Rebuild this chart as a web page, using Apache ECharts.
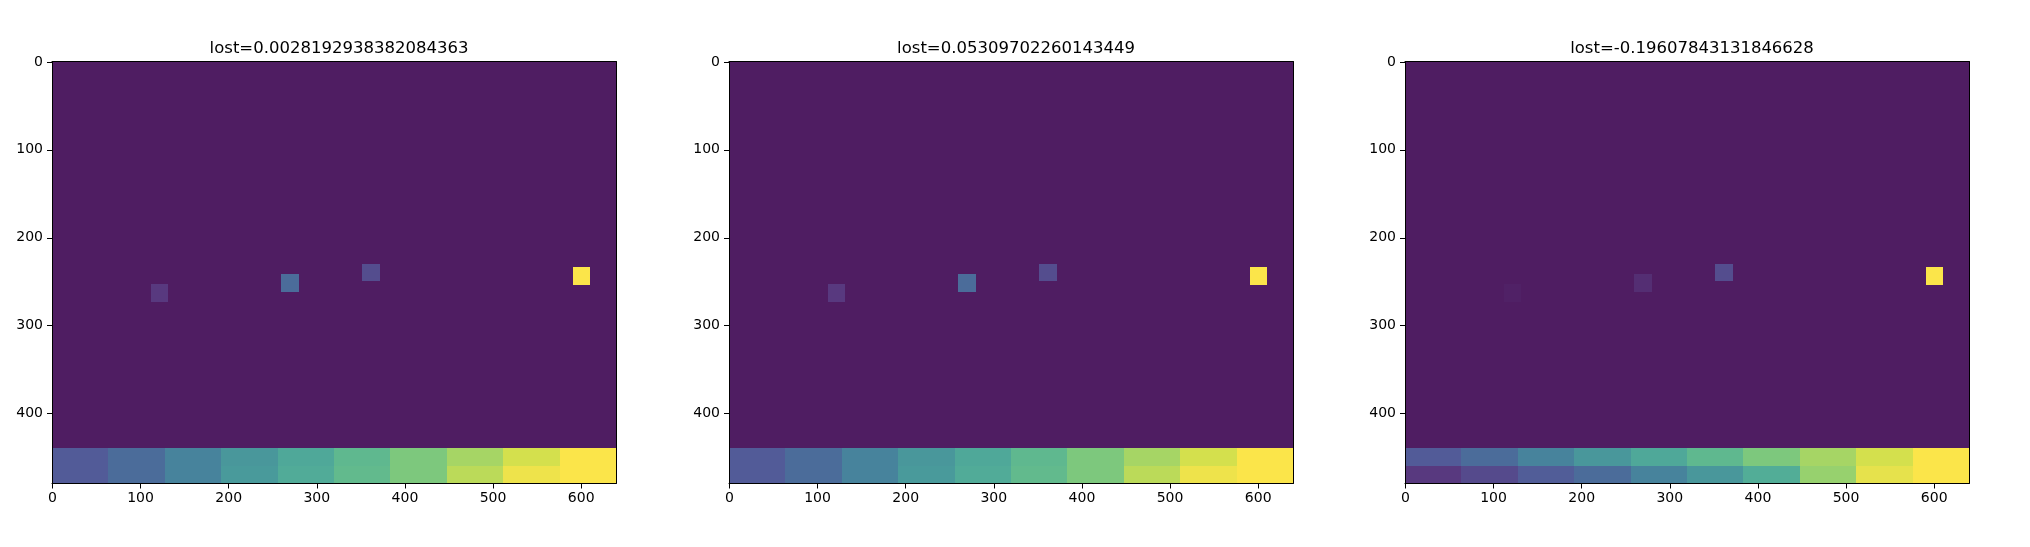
<!DOCTYPE html>
<html>
<head>
<meta charset="utf-8">
<script src="https://cdn.jsdelivr.net/npm/echarts@6/dist/echarts.min.js"></script>
<style>
html,body{margin:0;padding:0;background:#fff;}
#chart{width:2030px;height:547px;}
</style>
</head>
<body>
<div id="chart"></div>
<script>
// ---------------- data ----------------
const titles = ['lost=0.0028192938382084363', 'lost=0.05309702260143449', 'lost=-0.19607843131846628'];
const xTicks = [0, 100, 200, 300, 400, 500, 600];
const yTicks = [0, 100, 200, 300, 400];
const imageWidth = 640;
const imageHeight = 480;
const backgroundValue = [0.0, 0.0, 0.0];
// small squares: left / top pixel index and size (image pixels)
const squareLeft = [112, 260, 352, 591];
const squareTop = [253, 242, 230, 234];
const squareSize = 20;
const squareValues = [
  [0.10, 0.29, 0.16, 1.0],
  [0.10, 0.29, 0.16, 1.0],
  [0.015, 0.06, 0.16, 1.0]
];
// bottom strip: column edges and row edges (image pixels)
const stripColumns = [0, 64, 128, 192, 256, 320, 384, 448, 512, 576, 640];
const stripRows = [440, 460, 480];
const stripTopValues = [
  [0.20, 0.29, 0.38, 0.47, 0.55, 0.64, 0.73, 0.82, 0.91, 1.0],
  [0.20, 0.29, 0.38, 0.47, 0.55, 0.64, 0.73, 0.82, 0.91, 1.0],
  [0.20, 0.29, 0.38, 0.47, 0.55, 0.64, 0.73, 0.82, 0.91, 1.0]
];
const stripBottomValues = [
  [0.20, 0.29, 0.38, 0.48, 0.57, 0.65, 0.73, 0.86, 0.97, 1.0],
  [0.20, 0.29, 0.38, 0.48, 0.57, 0.65, 0.73, 0.86, 0.97, 1.0],
  [0.10, 0.15, 0.21, 0.29, 0.38, 0.47, 0.58, 0.79, 0.95, 1.0]
];

// ---------------- style ----------------
// muted viridis-like colour map, stops at 0.0, 0.1, ..., 1.0
const cmap = [
  'rgb(79,29,98)', 'rgb(88,57,127)', 'rgb(82,91,152)', 'rgb(74,110,154)',
  'rgb(70,136,156)', 'rgb(74,158,155)', 'rgb(84,177,150)', 'rgb(112,195,132)',
  'rgb(155,210,107)', 'rgb(208,223,77)', 'rgb(251,229,74)'
];
const FONT = 'DejaVu Sans';
const gridLeft = [52, 729, 1405];
const gridTop = 61.5, gridWidth = 564, gridHeight = 422;

// ---------------- build ----------------
function cellsFor(p) {
  const cells = [];
  cells.push([0, 0, imageWidth, imageHeight, backgroundValue[p]]);
  for (let i = 0; i < squareLeft.length; i++) {
    cells.push([squareLeft[i], squareTop[i], squareLeft[i] + squareSize, squareTop[i] + squareSize, squareValues[p][i]]);
  }
  for (let k = 0; k < stripColumns.length - 1; k++) {
    cells.push([stripColumns[k], stripRows[0], stripColumns[k + 1], stripRows[1], stripTopValues[p][k]]);
    cells.push([stripColumns[k], stripRows[1], stripColumns[k + 1], stripRows[2], stripBottomValues[p][k]]);
  }
  return cells;
}

function renderCell(params, api) {
  const a = api.coord([api.value(0) - 0.5, api.value(1) - 0.5]);
  const b = api.coord([api.value(2) - 0.5, api.value(3) - 0.5]);
  const x0 = Math.round(Math.min(a[0], b[0])), x1 = Math.round(Math.max(a[0], b[0]));
  const y0 = Math.round(Math.min(a[1], b[1])), y1 = Math.round(Math.max(a[1], b[1]));
  return {
    type: 'rect',
    shape: { x: x0, y: y0, width: x1 - x0, height: y1 - y0 },
    style: { fill: api.visual('color'), stroke: null }
  };
}

const grid = [], xAxis = [], yAxis = [], series = [], title = [];
for (let p = 0; p < 3; p++) {
  grid.push({ left: gridLeft[p], top: gridTop, width: gridWidth, height: gridHeight, containLabel: false });
  title.push({
    text: titles[p], left: gridLeft[p] + gridWidth / 2, top: 35, textAlign: 'center',
    textStyle: { fontFamily: FONT, fontSize: 16.5, fontWeight: 'normal', color: '#000' }
  });
  const axisCommon = { type: 'value', min: -0.5, gridIndex: p, splitLine: { show: false }, z: 10 };
  xAxis.push(Object.assign({}, axisCommon, {
    max: imageWidth - 0.5, position: 'bottom',
    axisLine: { show: true, onZero: false, lineStyle: { color: '#000', width: 1 } },
    axisTick: { show: true, length: 5, customValues: xTicks, lineStyle: { color: '#000', width: 1 } },
    axisLabel: { customValues: xTicks, margin: 8, fontFamily: FONT, fontSize: 14, color: '#000' }
  }));
  xAxis.push(Object.assign({}, axisCommon, {
    max: imageWidth - 0.5, position: 'top',
    axisLine: { show: true, onZero: false, lineStyle: { color: '#000', width: 1 } },
    axisTick: { show: false }, axisLabel: { show: false }
  }));
  yAxis.push(Object.assign({}, axisCommon, {
    max: imageHeight - 0.5, inverse: true, position: 'left',
    axisLine: { show: true, onZero: false, lineStyle: { color: '#000', width: 1 } },
    axisTick: { show: true, length: 5, customValues: yTicks, lineStyle: { color: '#000', width: 1 } },
    axisLabel: { customValues: yTicks, margin: 9, fontFamily: FONT, fontSize: 14, color: '#000' }
  }));
  yAxis.push(Object.assign({}, axisCommon, {
    max: imageHeight - 0.5, inverse: true, position: 'right',
    axisLine: { show: true, onZero: false, lineStyle: { color: '#000', width: 1 } },
    axisTick: { show: false }, axisLabel: { show: false }
  }));
  series.push({
    type: 'custom', xAxisIndex: 2 * p, yAxisIndex: 2 * p,
    renderItem: renderCell, data: cellsFor(p), clip: true,
    encode: { x: [0, 2], y: [1, 3] }, silent: true, animation: false
  });
}

const chart = echarts.init(document.getElementById('chart'), null, { renderer: 'canvas' });
chart.setOption({
  backgroundColor: '#fff',
  animation: false,
  title: title,
  grid: grid,
  xAxis: xAxis,
  yAxis: yAxis,
  visualMap: {
    type: 'continuous', show: false, min: 0, max: 1, dimension: 4,
    seriesIndex: [0, 1, 2], inRange: { color: cmap }
  },
  series: series
});
</script>
</body>
</html>
